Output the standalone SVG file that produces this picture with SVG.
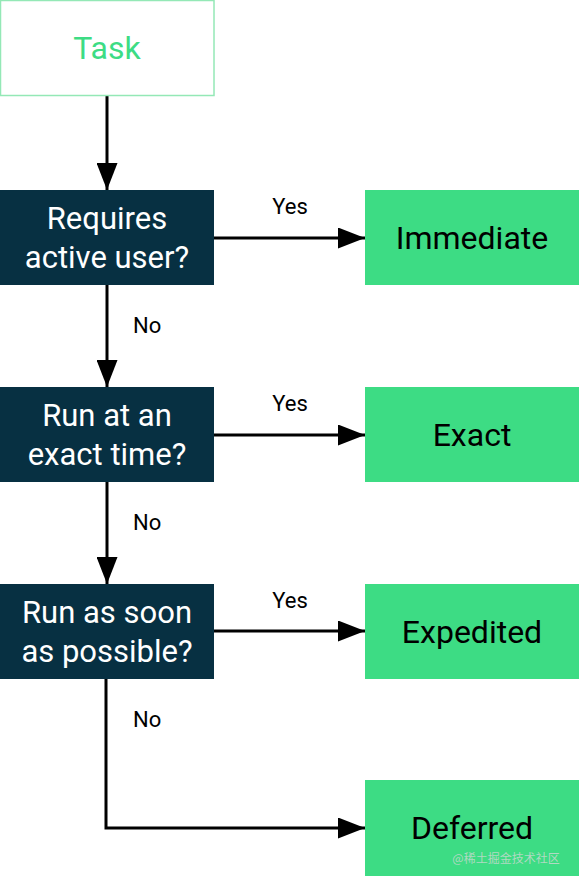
<svg xmlns="http://www.w3.org/2000/svg" width="579" height="876" viewBox="0 0 579 876">
<defs>
<marker id="ah" markerWidth="9" markerHeight="7" refX="9" refY="3.5" orient="auto" markerUnits="strokeWidth">
<path d="M0,0 L9,3.5 L0,7 Z" fill="#000"/>
</marker>
<style>
.dec{fill:#073042}
.res{fill:#3ddc84}
.t{font-family:Roboto,"Open Sans","Liberation Sans",sans-serif;font-size:32px;text-anchor:middle}
.q{font-family:Roboto,"Open Sans","Liberation Sans",sans-serif;font-size:31px;text-anchor:middle;fill:#fff}
.k{fill:#000}
.lbl{font-family:Roboto,"Open Sans","Liberation Sans",sans-serif;font-size:22px;fill:#000}
.c{fill:none;stroke:#000;stroke-width:3}
</style>
</defs>
<rect width="579" height="876" fill="#fff"/>
<g id="connectors">
<line class="c" x1="107" y1="96" x2="107" y2="190" marker-end="url(#ah)"/>
<line class="c" x1="214" y1="238" x2="365" y2="238" marker-end="url(#ah)"/>
<text class="lbl" x="290" y="214" text-anchor="middle">Yes</text>
<line class="c" x1="107" y1="285" x2="107" y2="387" marker-end="url(#ah)"/>
<text class="lbl" x="133" y="333">No</text>
<line class="c" x1="214" y1="435" x2="365" y2="435" marker-end="url(#ah)"/>
<text class="lbl" x="290" y="411" text-anchor="middle">Yes</text>
<line class="c" x1="107" y1="482" x2="107" y2="584" marker-end="url(#ah)"/>
<text class="lbl" x="133" y="530">No</text>
<line class="c" x1="214" y1="631" x2="365" y2="631" marker-end="url(#ah)"/>
<text class="lbl" x="290" y="608" text-anchor="middle">Yes</text>
<polyline class="c" points="106,679 106,828 365,828" marker-end="url(#ah)"/>
<text class="lbl" x="133" y="727">No</text>
</g>
<g id="task">
<rect x="0.5" y="0.5" width="213.5" height="95" fill="#fff" stroke="#94e8b6" stroke-width="1.5"/>
<text class="t" x="107" y="59" fill="#3ddc84" font-size="30">Task</text>
</g>
<g id="q1">
<rect class="dec" x="0" y="190" width="214" height="95"/>
<text class="q" x="107" y="229">Requires</text>
<text class="q" x="107" y="268">active user?</text>
</g>
<g id="q2">
<rect class="dec" x="0" y="387" width="214" height="95"/>
<text class="q" x="107" y="426">Run at an</text>
<text class="q" x="107" y="465">exact time?</text>
</g>
<g id="q3">
<rect class="dec" x="0" y="584" width="214" height="95"/>
<text class="q" x="107" y="623">Run as soon</text>
<text class="q" x="107" y="662">as possible?</text>
</g>
<g id="immediate">
<rect class="res" x="365" y="190" width="214" height="95"/>
<text class="t k" x="472" y="249">Immediate</text>
</g>
<g id="exact">
<rect class="res" x="365" y="387" width="214" height="95"/>
<text class="t k" x="472" y="446">Exact</text>
</g>
<g id="expedited">
<rect class="res" x="365" y="584" width="214" height="95"/>
<text class="t k" x="472" y="643">Expedited</text>
</g>
<g id="deferred">
<rect class="res" x="365" y="780" width="214" height="96"/>
<text class="t k" x="472" y="839">Deferred</text>
</g>
<text x="506" y="863" text-anchor="middle" font-family="'Noto Sans CJK SC',sans-serif" font-size="12" fill="#d8d8d8" fill-opacity="0.75">@稀土掘金技术社区</text>
</svg>
